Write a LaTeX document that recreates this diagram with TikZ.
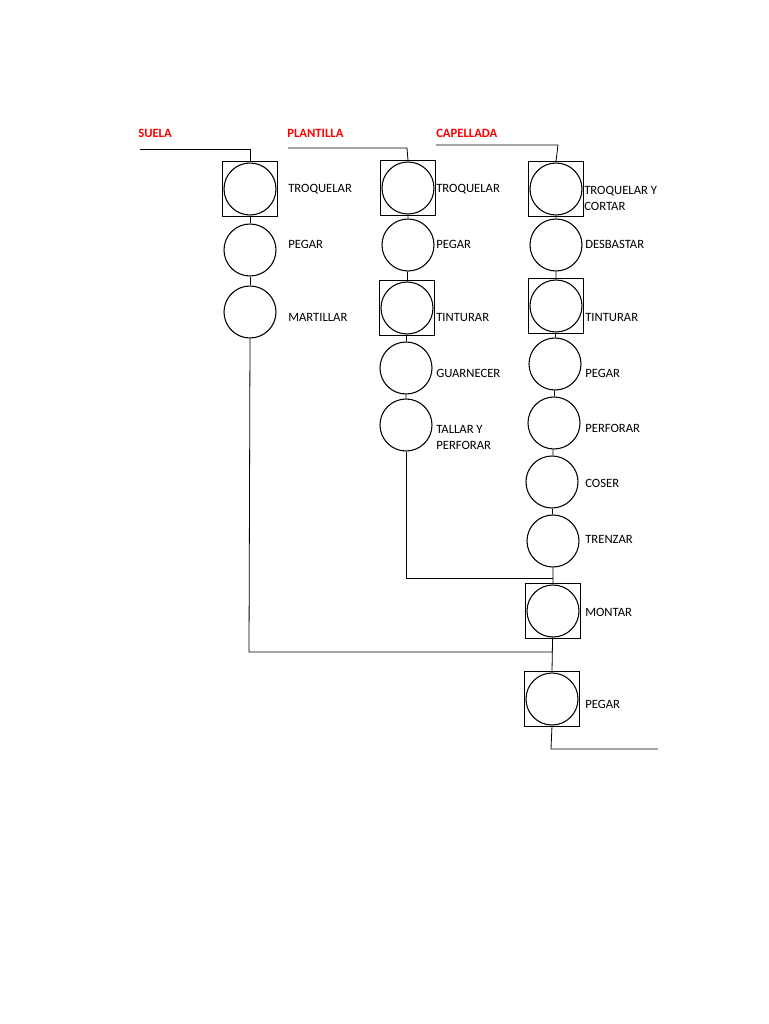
\documentclass[tikz,border=0pt]{standalone}
\usepackage{fontspec}
\setmainfont{Carlito}
\begin{document}
\begin{tikzpicture}[x=0.75pt,y=-0.75pt,
  op/.style={circle,draw,thick,minimum size=39pt,inner sep=0pt},
  sq/.style={draw,minimum size=41pt,inner sep=0pt},
  lab/.style={anchor=west,font=\fontsize{9.5pt}{12pt}\selectfont,align=left,inner sep=0pt},
  ttl/.style={anchor=west,font=\bfseries\fontsize{9.5pt}{12pt}\selectfont,text=red,inner sep=0pt},
  ln/.style={draw,line width=0.6pt}]
\useasboundingbox (0,0) rectangle (768,1024);
\fill[white] (0,0) rectangle (768,1024);
\node[ttl] (t1) at (138,133) {SUELA};
\node[ttl] (t2) at (287,133) {PLANTILLA};
\node[ttl] (t3) at (436,133) {CAPELLADA};
% column 1
\node[sq] (s11) at (250,189) {};
\node[op] (a1) at (250,189) {};
\node[op] (a2) at (250,250) {};
\node[op] (a3) at (250,312) {};
\node[lab] at (288,189) {TROQUELAR};
\node[lab] at (288,244) {PEGAR};
\node[lab] at (288,317) {MARTILLAR};
\coordinate (c1a) at (140,149); \coordinate (c1b) at (250,149);
\draw[ln] (c1a) -- (c1b) -- (s11.north);
\draw[ln] (a1) -- (a2) (a2) -- (a3);
% column 2
\node[sq] (s21) at (408,188) {};
\node[op] (b1) at (408,188) {};
\node[op] (b2) at (408,245) {};
\node[sq] (s23) at (407,308) {};
\node[op] (b3) at (407,308) {};
\node[op] (b4) at (406,368) {};
\node[op] (b5) at (406,425) {};
\node[lab] at (436,189) {TROQUELAR};
\node[lab] at (436,244) {PEGAR};
\node[lab] at (436,317) {TINTURAR};
\node[lab] at (436,373) {GUARNECER};
\node[lab] at (436,437) {TALLAR Y\\PERFORAR};
\coordinate (c2a) at (288,148); \coordinate (c2b) at (407,148);
\draw[ln] (c2a) -- (c2b) -- (s21.north);
\draw[ln] (b1) -- (b2) (b2) -- (b3) (b3) -- (b4) (b4) -- (b5);
% column 3
\node[sq] (s31) at (556,189) {};
\node[op] (d1) at (556,189) {};
\node[op] (d2) at (556,245) {};
\node[sq] (s33) at (556,306) {};
\node[op] (d3) at (556,306) {};
\node[op] (d4) at (555,364) {};
\node[op] (d5) at (554,423) {};
\node[op] (d6) at (552,482) {};
\node[op] (d7) at (553,541) {};
\node[sq] (s38) at (553,611) {};
\node[op] (d8) at (553,611) {};
\node[sq] (s39) at (552,699) {};
\node[op] (d9) at (552,699) {};
\begin{scope}
\clip (0,0) rectangle (660,1024);
\node[lab] at (584,198) {TROQUELAR Y\\CORTAR};
\end{scope}
\node[lab] at (585,244) {DESBASTAR};
\node[lab] at (585,317) {TINTURAR};
\node[lab] at (585,373) {PEGAR};
\node[lab] at (585,428) {PERFORAR};
\node[lab] at (585,483) {COSER};
\node[lab] at (585,539) {TRENZAR};
\node[lab] at (585,612) {MONTAR};
\node[lab] at (585,704) {PEGAR};
\coordinate (c3a) at (436,145); \coordinate (c3b) at (558,145);
\draw[ln] (c3a) -- (c3b) -- (s31.north);
\draw[ln] (d1) -- (d2) (d2) -- (d3) (d3) -- (d4) (d4) -- (d5) (d5) -- (d6) (d6) -- (d7) (d7) -- (s38.north);
% joins
\coordinate (j2) at (406,578); \coordinate (j2b) at (553,578);
\draw[ln] (b5.south) -- (j2) -- (j2b);
\coordinate (j1) at (249,652); \coordinate (j1b) at (553,652);
\draw[ln] (a3.south) -- (j1) -- (j1b);
\draw[ln] (d8) -- (s39.north);
\coordinate (e1) at (551,749); \coordinate (e2) at (658,749);
\draw[ln] (d9.south) -- (e1) -- (e2);
\end{tikzpicture}
\end{document}
